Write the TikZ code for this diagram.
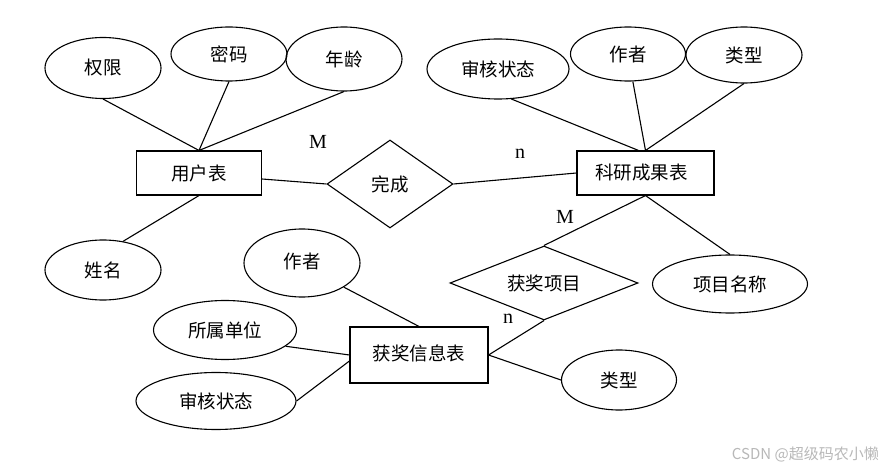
\documentclass[tikz,border=0pt]{standalone}
\usepackage{fontspec}
\setmainfont{Liberation Serif}
\newfontfamily\cjk{Noto Sans CJK SC}
\usetikzlibrary{shapes.geometric,calc}
\begin{document}
\begin{tikzpicture}[x=1pt,y=-1pt,
  every node/.style={font=\cjk\fontsize{18.5}{20}\selectfont, inner sep=0pt},
  attr/.style={draw, ellipse, line width=1.1pt},
  ent/.style={draw, rectangle, line width=1.1pt},
  card/.style={font=\fontsize{20}{22}\selectfont},
  ln/.style={line width=1.1pt}]
\fill[white] (0,0) rectangle (881,470);
\useasboundingbox (0,0) rectangle (881,470);
% entities
\node[ent, minimum width=125, minimum height=44] (yh) at (199,173) {用户表};
\node[ent, minimum width=137, minimum height=44] (ky) at (645.5,173) {\hspace*{-8pt}科研成果表};
\node[ent, minimum width=138, minimum height=56] (hx) at (419,355) {\raisebox{4pt}{获奖信息表}};
% relations
\node[draw, line width=1.1pt, shape=diamond, minimum width=126, minimum height=88, inner sep=0pt] (wc) at (390,184) {};
\node (wct) at (wc) {完成};
\node[draw, line width=1.1pt, shape=diamond, minimum width=188, minimum height=74, inner sep=0pt] (hj) at (544,283) {};
\node (hjt) at (hj) {获奖项目};
% attributes of 用户表
\node[attr, minimum width=116, minimum height=61] (qx) at (103,68) {权限};
\node[attr, minimum width=116, minimum height=54] (mm) at (229,54) {密码};
\node[attr, minimum width=116, minimum height=64] (nl) at (344,59) {年龄};
\node[attr, minimum width=116, minimum height=60] (xm) at (103,270) {姓名};
% attributes of 科研成果表
\node[attr, minimum width=142, minimum height=60] (sh1) at (498,69) {审核状态};
\node[attr, minimum width=115, minimum height=54] (zz1) at (628,54) {作者};
\node[attr, minimum width=116, minimum height=56] (lx1) at (744,55) {类型};
\node[attr, minimum width=155, minimum height=58] (xmmc) at (730,284) {项目名称};
% attributes of 获奖信息表
\node[attr, minimum width=116, minimum height=68] (zz2) at (302,263) {\raisebox{4pt}{作者}};
\node[attr, minimum width=143, minimum height=59] (ssdw) at (225,330) {所属单位};
\node[attr, minimum width=160, minimum height=57] (sh2) at (216,401) {审核状态};
\node[attr, minimum width=115, minimum height=60] (lx2) at (619,380) {类型};
% cardinalities
\node[card] (m1) at (318,142) {M};
\node[card] (n1) at (520,154) {n};
\node[card] (m2) at (565,217) {M};
\node[card] (n2) at (508,319) {n};
% connectors
\draw[ln] (qx.south) -- (yh.north);
\draw[ln] (mm.south) -- (yh.north);
\draw[ln] (nl.south) -- (yh.north);
\draw[ln] (yh.south) -- (xm.55);
\draw[ln] ([yshift=-6pt]yh.east) -- (wc.west);
\draw[ln] (wc.east) -- (ky.west);
\draw[ln] (sh1.-66) -- ([xshift=-7pt]ky.north);
\draw[ln] (zz1.-80) -- (ky.north);
\draw[ln] (lx1.south) -- (ky.north);
\draw[ln] (ky.south) -- (hj.north);
\draw[ln] (ky.south) -- (xmmc.north);
\draw[ln] (hj.south) -- (hx.east);
\draw[ln] (hx.east) -- (lx2.west);
\draw[ln] (zz2.-30) -- (hx.north);
\draw[ln] (ssdw.-15) -- (hx.west);
\draw[ln] (sh2.east) -- ([yshift=-6pt]hx.west);
% watermark
\node[font=\cjk\fontsize{15}{17}\selectfont, text=black!28, anchor=east] (wm) at (879,454) {CSDN @超级码农小懒};
\end{tikzpicture}
\end{document}
